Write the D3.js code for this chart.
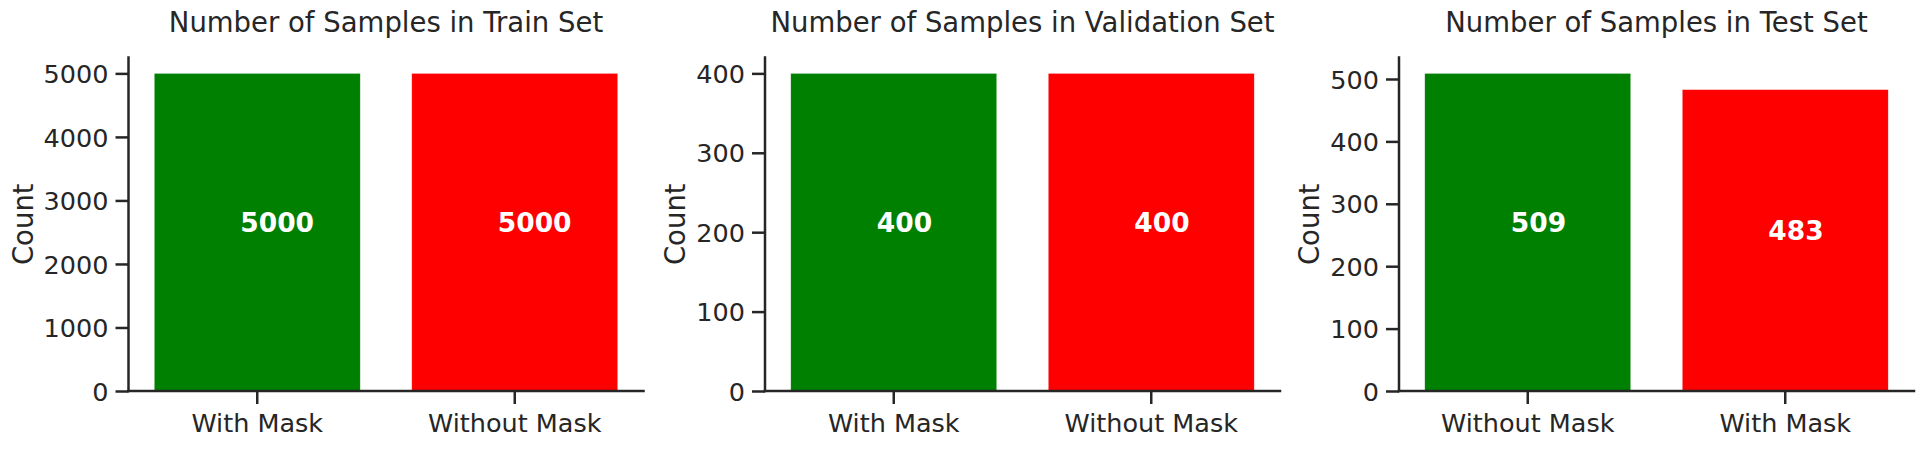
<!DOCTYPE html>
<html>
<head>
<meta charset="utf-8">
<script src="https://cdn.jsdelivr.net/npm/d3@7"></script>
<style>
  body { margin: 0; background: #fff; }
  text { font-family: "DejaVu Sans", sans-serif; fill: #262626; }
</style>
</head>
<body>
<div id="chartContainer"></div>
<script>
// Chart data
const panelTitles = [
    "Number of Samples in Train Set",
    "Number of Samples in Validation Set",
    "Number of Samples in Test Set"
];
const trainCategories = ["With Mask", "Without Mask"];
const trainCounts = [5000, 5000];
const valCategories = ["With Mask", "Without Mask"];
const valCounts = [400, 400];
const testCategories = ["Without Mask", "With Mask"];
const testCounts = [509, 483];
const yLabel = "Count";
const barColors = ["#008000", "#ff0000"];

const W = 1924, H = 450;
const panelLeft = [128.5, 765, 1399];
const panelWidth = 515;
const plotTop = 57.5, plotBottom = 391;

const svg = d3.select("#chartContainer").append("svg")
    .attr("width", W)
    .attr("height", H);

const panels = [
    { cats: trainCategories, counts: trainCounts },
    { cats: valCategories, counts: valCounts },
    { cats: testCategories, counts: testCounts }
];

panels.forEach((p, i) => {
    const g = svg.append("g")
        .attr("transform", `translate(${panelLeft[i]}, 0)`);

    const x = d3.scaleBand()
        .domain(p.cats)
        .range([0, panelWidth])
        .paddingInner(0.2)
        .paddingOuter(0.1);

    const y = d3.scaleLinear()
        .domain([0, d3.max(p.counts) * 1.05])
        .range([plotBottom, plotTop]);

    // Bars
    g.selectAll("rect.bar")
        .data(p.counts)
        .enter()
        .append("rect")
        .attr("class", "bar")
        .attr("x", (d, j) => x(p.cats[j]))
        .attr("y", d => y(d))
        .attr("width", x.bandwidth())
        .attr("height", d => plotBottom - y(d))
        .style("fill", (d, j) => barColors[j])
        .style("stroke", "#ffffff")
        .style("stroke-opacity", 0.6)
        .style("stroke-width", 0.6);

    // Value labels
    g.selectAll("text.value")
        .data(p.counts)
        .enter()
        .append("text")
        .attr("class", "value")
        .attr("x", (d, j) => x(p.cats[j]) + x.bandwidth() / 2 - 17)
        .attr("y", d => y(d / 2))
        .style("text-anchor", "start")
        .style("font-size", "26.5px")
        .style("font-weight", "bold")
        .style("fill", "#ffffff")
        .text(d => d);

    // Y axis
    const yAxis = g.append("g")
        .call(d3.axisLeft(y).ticks(5).tickFormat(d3.format("d")).tickSize(13).tickPadding(7));
    yAxis.select(".domain").remove();
    yAxis.selectAll(".tick line")
        .attr("stroke", "#262626")
        .attr("stroke-width", 2.5);
    yAxis.selectAll(".tick text")
        .style("font-size", "25.5px")
        .style("font-family", "'DejaVu Sans', sans-serif")
        .attr("dy", "0.36em");

    // X axis
    const xAxis = g.append("g")
        .attr("transform", `translate(0, ${plotBottom})`)
        .call(d3.axisBottom(x).tickSize(13).tickPadding(10));
    xAxis.select(".domain").remove();
    xAxis.selectAll(".tick line")
        .attr("stroke", "#262626")
        .attr("stroke-width", 2.5);
    xAxis.selectAll(".tick text")
        .style("font-size", "25.5px")
        .style("font-family", "'DejaVu Sans', sans-serif")
        .attr("dy", "0.71em");

    // Spines (left and bottom only)
    g.append("line")
        .attr("x1", 0).attr("x2", 0)
        .attr("y1", plotTop).attr("y2", plotBottom)
        .attr("stroke", "#262626")
        .attr("stroke-width", 2.5)
        .attr("stroke-linecap", "square");
    g.append("line")
        .attr("x1", 0).attr("x2", panelWidth)
        .attr("y1", plotBottom).attr("y2", plotBottom)
        .attr("stroke", "#262626")
        .attr("stroke-width", 2.5)
        .attr("stroke-linecap", "square");

    // Title
    g.append("text")
        .attr("x", panelWidth / 2)
        .attr("y", 32)
        .style("text-anchor", "middle")
        .style("font-size", "27.5px")
        .text(panelTitles[i]);

    // Y label placed left of the widest tick label
    let minX = 0;
    yAxis.selectAll(".tick text").each(function() {
        const b = this.getBBox();
        minX = Math.min(minX, b.x);
    });
    g.append("text")
        .attr("transform", `translate(${minX - 11}, ${(plotTop + plotBottom) / 2}) rotate(-90)`)
        .style("text-anchor", "middle")
        .style("font-size", "27.5px")
        .text(yLabel);
});
</script>
</body>
</html>
